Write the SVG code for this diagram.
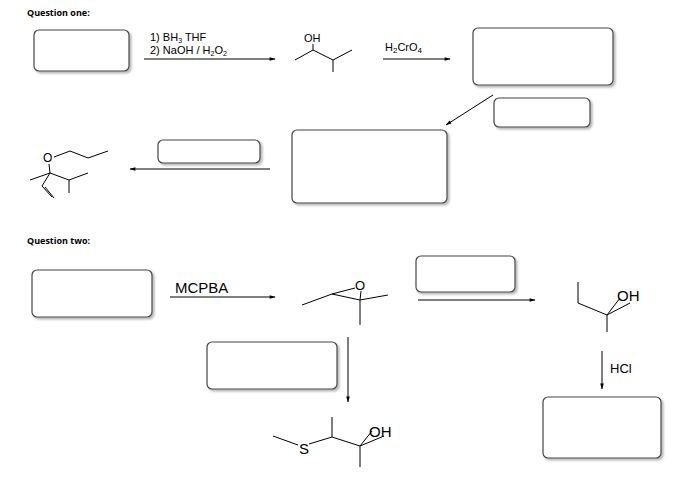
<svg xmlns="http://www.w3.org/2000/svg" width="700" height="485" viewBox="0 0 700 485">
<defs>
<marker id="ah" viewBox="0 0 10 10" refX="9" refY="5" markerWidth="8" markerHeight="6" orient="auto"><path d="M0,2 L10,5 L0,8 z" fill="#000"/></marker>
<filter id="sh" x="-10%" y="-10%" width="130%" height="130%"><feDropShadow dx="2" dy="2" stdDeviation="1" flood-color="#999" flood-opacity="0.7"/></filter>
</defs>
<style>
.box{fill:#fff;stroke:#444;stroke-width:1.2;filter:url(#sh)}
.b{stroke:#000;stroke-width:1;fill:none}
.ar{stroke:#000;stroke-width:1;fill:none;marker-end:url(#ah)}
.t{font-family:"Liberation Sans",Arial,sans-serif;font-size:11px;fill:#000}
.h{font-family:"Open Sans","Liberation Sans",sans-serif;font-size:9px;font-weight:bold;fill:#000}
.big{font-family:"Liberation Sans",Arial,sans-serif;font-size:15px;fill:#000}
</style>
<rect width="700" height="485" fill="#fff"/>
<text class="h" x="27" y="16">Question one:</text>
<text class="h" x="27" y="244">Question two:</text>
<g id="box1"><rect class="box" x="34" y="30" width="95" height="41" rx="5"/></g>
<g id="box2"><rect class="box" x="473" y="28" width="140" height="57" rx="5"/></g>
<g id="box3"><rect class="box" x="494" y="98" width="96" height="29" rx="5"/></g>
<g id="box4"><rect class="box" x="292" y="130" width="155" height="73" rx="5"/></g>
<g id="box5"><rect class="box" x="158" y="140" width="102" height="23" rx="5"/></g>
<g id="box6"><rect class="box" x="32" y="270" width="120" height="47" rx="5"/></g>
<g id="box7"><rect class="box" x="416" y="256" width="99" height="36" rx="5"/></g>
<g id="box8"><rect class="box" x="207" y="342" width="130" height="47" rx="5"/></g>
<g id="box9"><rect class="box" x="543" y="397" width="118" height="61" rx="5"/></g>
<g id="alcohol1">
<path class="b" d="M295,60 L313,50 L333,60 L352,50 M333,60 L333,72 M313,50 L313,44"/>
<text class="t" x="304" y="42">OH</text>
</g>
<g id="ether">
<path class="b" d="M54,157 L70,151 L88,158 L108,151 M49,164 L50,173 L30,180 M50,173 L69,180 L88,173 M69,180 L69,193 M50,173 L42,186 L52,197 M45,187 L54,198"/>
<text class="t" x="43" y="162" style="font-size:12px">O</text>
</g>
<g id="epoxide">
<path class="b" d="M302,305 L332,294 L360,300 L388,295 M360,300 L360,325 M332,294 L355,288 M360,300 L361,291"/>
<text class="t" x="355" y="290" style="font-size:13px">O</text>
</g>
<g id="alcohol2">
<path class="b" d="M578,282 L578,303 L607,315 L607,332 M607,315 L630,303 M607,315 L620,298"/>
<text class="big" x="617" y="301">OH</text>
</g>
<g id="thio">
<path class="b" d="M273,436 L298,445 M309,444 L332,437 L332,417 M332,437 L360,446 L360,467 M360,446 L384,436 M360,446 L372,431"/>
<text class="big" x="299" y="454">S</text>
<text class="big" x="369" y="437">OH</text>
</g>
<g id="connectors">
<line class="ar" x1="144" y1="59" x2="275" y2="59"/>
<line class="ar" x1="383" y1="59" x2="450" y2="59"/>
<line class="ar" x1="493" y1="95" x2="446" y2="125"/>
<line class="ar" x1="270" y1="169" x2="130" y2="169"/>
<line class="ar" x1="170" y1="297" x2="275" y2="297"/>
<line class="ar" x1="418" y1="300" x2="535" y2="300"/>
<line class="ar" x1="348" y1="337" x2="348" y2="402"/>
<line class="ar" x1="602" y1="351" x2="602" y2="389"/>
</g>
<text class="t" x="150" y="41">1) BH<tspan style="font-size:7px" dy="1.5">3</tspan><tspan dy="-1.5"> THF</tspan></text>
<text class="t" x="150" y="54">2) NaOH / H<tspan style="font-size:7px" dy="1.5">2</tspan><tspan dy="-1.5">O</tspan><tspan style="font-size:7px" dy="1.5">2</tspan></text>
<text class="t" x="385" y="51">H<tspan style="font-size:8px" dy="2">2</tspan><tspan dy="-2">CrO</tspan><tspan style="font-size:8px" dy="2">4</tspan></text>
<text class="big" x="175" y="293">MCPBA</text>
<text class="t" x="610" y="373" style="font-size:13px">HCl</text>
</svg>
